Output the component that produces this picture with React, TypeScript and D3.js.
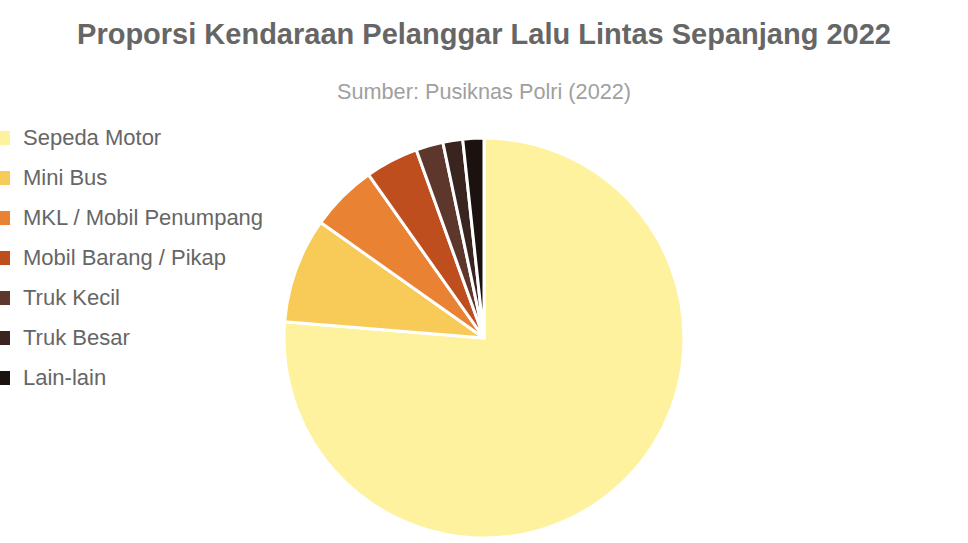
import React from "react";
import * as d3 from "d3";

const categories = [
  "Sepeda Motor",
  "Mini Bus",
  "MKL / Mobil Penumpang",
  "Mobil Barang / Pikap",
  "Truk Kecil",
  "Truk Besar",
  "Lain-lain",
];
const values = [76.3, 8.5, 5.4, 4.3, 2.2, 1.6, 1.7];
const colors = ["#fef29f", "#f8ca58", "#e98233", "#bf4e1f", "#5e372c", "#3a2420", "#1b1210"];

const W = 968;
const H = 543;
const FONT = "'Liberation Sans', Arial, Helvetica, sans-serif";

export default function App() {
  const cx = 484;
  const cy = 338;
  const r = 200;

  const data = categories.map((c, i) => ({ name: c, value: values[i], color: colors[i] }));
  const pie = d3.pie<any>().value((d) => d.value).sort(null);
  const arc = d3.arc<any>().innerRadius(0).outerRadius(r);
  const arcs = pie(data);

  const legendY = d3.scaleBand<string>().domain(categories).range([118, 398]);

  return (
    <svg
      width={W}
      height={H}
      style={{ position: "absolute", left: 0, top: 0, background: "#fff" }}
      fontFamily={FONT}
    >
      <text x={484} y={44} textAnchor="middle" fontSize={29} fontWeight="bold" fill="#666">
        Proporsi Kendaraan Pelanggar Lalu Lintas Sepanjang 2022
      </text>
      <text x={484} y={99} textAnchor="middle" fontSize={21.7} fill="#a0a0a0">
        Sumber: Pusiknas Polri (2022)
      </text>
      <g transform={`translate(${cx},${cy})`}>
        {arcs.map((a, i) => (
          <path key={i} d={arc(a) as string} fill={a.data.color} stroke="#fff" strokeWidth={3} strokeLinejoin="round" />
        ))}
      </g>
      <g>
        {categories.map((c, i) => {
          const y = (legendY(c) as number) + legendY.bandwidth() / 2;
          return (
            <g key={c}>
              <rect x={-4} y={y - 7} width={14} height={14} fill={colors[i]} />
              <text x={23} y={y + 7} fontSize={22} fill="#666">
                {c}
              </text>
            </g>
          );
        })}
      </g>
    </svg>
  );
}
